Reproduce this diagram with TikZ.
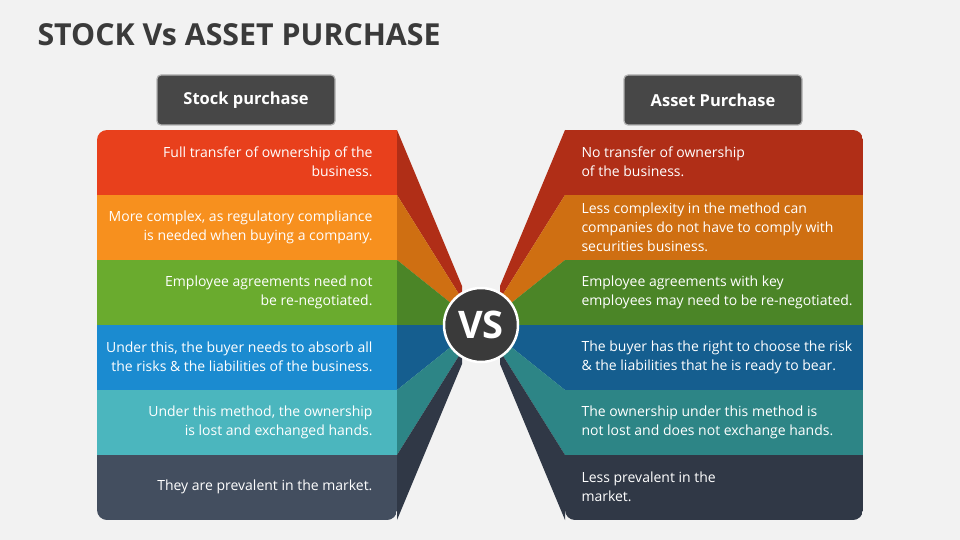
\documentclass[tikz,border=0pt]{standalone}
\usepackage{fontspec}
\setmainfont{Open Sans}
\usetikzlibrary{positioning}
\definecolor{bg}{HTML}{F2F2F2}
\definecolor{titlec}{HTML}{3A3A3A}
\definecolor{headc}{HTML}{474747}
\definecolor{cA}{HTML}{E8401C}\definecolor{dA}{HTML}{B02E17}
\definecolor{cB}{HTML}{F7901E}\definecolor{dB}{HTML}{CF6F12}
\definecolor{cC}{HTML}{6AAB2E}\definecolor{dC}{HTML}{4B8527}
\definecolor{cD}{HTML}{1B8BD0}\definecolor{dD}{HTML}{155E8F}
\definecolor{cE}{HTML}{4BB6BE}\definecolor{dE}{HTML}{2D8586}
\definecolor{cF}{HTML}{434E5F}\definecolor{dF}{HTML}{303846}
\begin{document}
\begin{tikzpicture}[x=1pt, y=-1pt,
    header/.style={draw=gray!60, line width=1.2pt, fill=headc, rounded corners=4pt,
                   minimum width=178pt, minimum height=50pt, text=white,
                   font=\fontsize{16.5}{20}\selectfont\bfseries},
    lefttext/.style={anchor=east, align=right, text=white,
                     font=\fontsize{14}{19}\selectfont},
    righttext/.style={anchor=west, align=left, text=white,
                      font=\fontsize{14}{19}\selectfont},
    vs/.style={circle, draw=white, line width=2.5pt, fill=titlec, minimum size=74pt,
               text=white, font=\fontsize{38}{38}\selectfont\bfseries}]
  \useasboundingbox[fill=bg] (0,0) rectangle (960,540);
  \node[anchor=west, text=titlec, font=\fontsize{30.3}{36}\selectfont\bfseries] (title) at (34,35)
    {STOCK Vs ASSET PURCHASE};
  \node[header] (lhead) at (246,100) {Stock purchase};
  \node[header] (rhead) at (713,100) {Asset Purchase};
  % wedges
  \foreach \i/\dc in {0/dA,1/dB,2/dC,3/dD,4/dE,5/dF}{
    \pgfmathsetmacro{\yt}{130+65*\i}
    \pgfmathsetmacro{\yb}{195+65*\i}
    \fill[\dc] (397,\yt) -- (397,\yb) -- (462,{325+(\yb-325)*0.2}) -- (462,{325+(\yt-325)*0.2}) -- cycle;
    \fill[\dc] (565,\yt) -- (565,\yb) -- (500,{325+(\yb-325)*0.2}) -- (500,{325+(\yt-325)*0.2}) -- cycle;
  }
  % panels
  \begin{scope}
    \clip[rounded corners=10pt] (397,130) -- (97,130) -- (97,520) -- (397,520) [sharp corners] -- cycle;
    \foreach \i/\c in {0/cA,1/cB,2/cC,3/cD,4/cE,5/cF}
      \fill[\c] (97,{130+65*\i}) rectangle (397,{195+65*\i});
  \end{scope}
  \begin{scope}
    \clip[rounded corners=10pt] (565,130) -- (863,130) -- (863,520) -- (565,520) [sharp corners] -- cycle;
    \foreach \i/\c in {0/dA,1/dB,2/dC,3/dD,4/dE,5/dF}
      \fill[\c] (565,{130+65*\i}) rectangle (863,{195+65*\i});
  \end{scope}
  \node[lefttext] (l1) at (376,162) {Full transfer of ownership of the\\business.};
  \node[lefttext] (l2) at (376,227) {More complex, as regulatory compliance\\is needed when buying a company.};
  \node[lefttext] (l3) at (376,292) {Employee agreements need not\\be re-negotiated.};
  \node[lefttext] (l4) at (376,357) {Under this, the buyer needs to absorb all\\the risks \& the liabilities of the business.};
  \node[lefttext] (l5) at (376,422) {Under this method, the ownership\\is lost and exchanged hands.};
  \node[lefttext] (l6) at (376,487) {They are prevalent in the market.};
  \node[righttext] (r1) at (578,162) {No transfer of ownership\\of the business.};
  \node[righttext] (r2) at (578,227) {Less complexity in the method can\\companies do not have to comply with\\securities business.};
  \node[righttext] (r3) at (578,292) {Employee agreements with key\\employees may need to be re-negotiated.};
  \node[righttext] (r4) at (578,357) {The buyer has the right to choose the risk\\\& the liabilities that he is ready to bear.};
  \node[righttext] (r5) at (578,422) {The ownership under this method is\\not lost and does not exchange hands.};
  \node[righttext] (r6) at (578,487) {Less prevalent in the\\market.};
  \node[vs] (versus) at (481,325) {VS};
\end{tikzpicture}
\end{document}
